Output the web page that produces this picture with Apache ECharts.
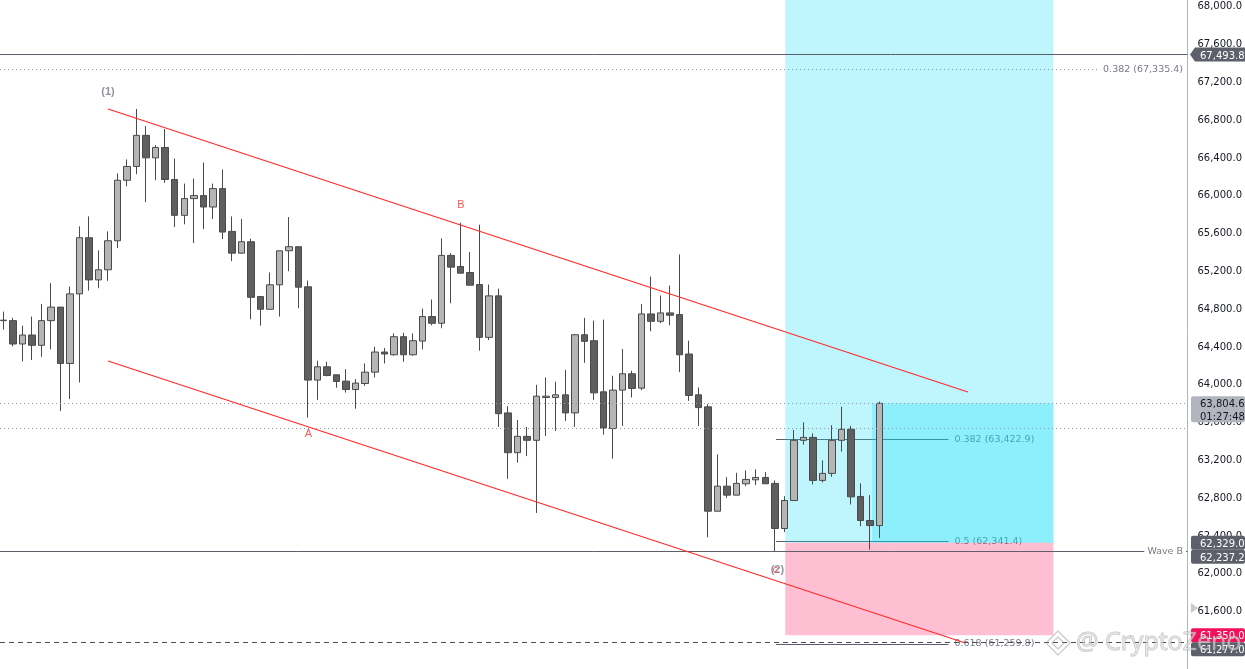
<!DOCTYPE html>
<html><head><meta charset="utf-8">
<script src="https://cdn.jsdelivr.net/npm/echarts@6/dist/echarts.min.js"></script>
<style>html,body{margin:0;padding:0;background:#fff;overflow:hidden}#c{width:1245px;height:669px}</style>
</head><body><div id="c"></div>
<script>
// ---- candle data (index = bar number) ----
const opens  = [64679,64679,64432,64527,64418,64679,64822,64226,64962,65556,65110,65217,65524,66164,66310,66639,66401,66511,66172,65793,65970,66002,65881,66076,65623,65393,65514,64934,64799,65058,65418,65461,65037,64050,64191,64106,64039,63950,64014,64134,64347,64318,64509,64318,64463,64722,64651,65369,65252,65188,65061,64502,64941,63703,63282,63455,63413,63866,63866,63894,63703,64530,64467,63926,63537,63944,64117,63965,64750,64672,64761,64743,64326,63894,63767,62663,62928,62833,62953,62995,63020,62957,62480,62776,63413,63444,62989,63063,63413,63530,62819,62565,62511];
const closes = [64684,64432,64527,64418,64679,64822,64226,64962,65556,65110,65217,65524,66164,66310,66639,66401,66511,66172,65793,65970,66002,65881,66076,65616,65393,65514,64926,64799,65058,65418,65461,65033,64050,64191,64099,64035,63950,64018,64134,64347,64326,64509,64318,64467,64722,64651,65369,65245,65181,65054,64502,64941,63695,63282,63455,63413,63880,63880,63894,63703,64530,64460,63915,63544,63944,64117,63961,64750,64672,64761,64736,64318,63887,63759,62663,62928,62833,62957,62999,63020,62953,62480,62776,63413,63444,62989,63063,63413,63530,62815,62565,62511,63804.6];
const lows   = [64584,64406,64247,64262,64297,64375,63724,63849,64025,64997,65022,65100,65446,66101,66228,65934,66164,66136,65669,65698,65499,65647,65754,65542,65308,65386,64693,64626,64799,64722,65202,64810,63653,63841,64089,63970,63918,63748,63989,64078,64226,64308,64244,64308,64375,64630,64598,64863,65181,65054,64361,64474,63554,63006,63176,63246,62645,63459,63512,63618,63554,64233,63841,63473,63219,63565,63866,63944,64566,64651,64630,64134,63830,63565,62387,62663,62804,62833,62928,62939,62953,62237.2,62442,62776,63367,62946,62967,63027,63293,62734,62504,62257,62380];
const highs  = [64775,64708,64626,64722,64856,65075,64822,65040,65676,65782,65422,65623,66236,66384,66918,66737,66536,66706,66394,66129,66182,66352,66129,66278,65782,65754,65546,64934,65188,65418,65775,65464,65103,64255,64244,64106,64166,64060,64226,64403,64389,64544,64552,64544,64806,64902,65549,65393,65716,65404,65694,65061,65018,63774,63628,63554,64000,64078,64032,64159,64530,64708,64679,64690,64096,64379,64149,64856,65145,64945,65050,65379,64467,63972,63795,63264,63023,63070,63095,63105,63077,62989,62822,63523,63604,63487,63201,63572,63767,63565,62957,62833,63823];

// ---- price axis: visible range and tick labels ----
const priceMin = 60993.8, priceMax = 68070.9;
const priceTicks = [61200, 61600, 62000, 62400, 62800, 63200, 63600, 64000, 64400, 64800, 65200, 65600, 66000, 66400, 66800, 67200, 67600, 68000];

// ---- horizontal levels ----
const levelValues = [67493.8, 67335.4, 63804.6, 63540.0, 62237.2, 61277.0];
const levelKinds  = ['solid', 'dotted', 'dotted', 'dotted', 'solid', 'dashed'];

// ---- fibonacci segment (bar indices) ----
const fibStartEnd = [81.13, 99.23];
const fibRatios = ['0.382', '0.5', '0.618'];
const fibValues = [63422.9, 62341.4, 61259.8];

// ---- long position tool ----
const posBars = [82.1, 91.22, 110.25];   // start, current-start, end
const posEntry = 62329.0, posStop = 61350.0, posTarget = 68500, posCurrent = 63804.6;

// ---- channel ----
const upperChannel = [[11.0, 66917.8], [101.28, 63923.9]];
const lowerChannel = [[11.0, 64251.9], [100.93, 61271.8]];

// ---- wave labels ----
const waveBars   = [11.0, 48.05, 32.03, 81.27, 81.1];
const wavePrices = [67097, 65902, 63479, 62040, 62040];
const waveTexts  = ['(1)', 'B', 'A', '(2)', 'C'];
const waveColors = ['#787b86', '#ff2d2d', '#ff2d2d', '#787b86', '#ff2d2d'];

// ---- axis price tags ----
const tagValues = [67493.8, 63804.6, 62329.0, 62237.2, 61350.0, 61277.0];
const tagExtra  = ['', '01:27:48', '', '', '', ''];
const tagBgs    = ['#5d606b', '#b2b5be', '#5d606b', '#5d606b', '#f50f5a', '#5d606b'];
const tagFg     = ['#ffffff', '#131722', '#ffffff', '#ffffff', '#ffffff', '#ffffff'];

const fmt = v => v.toLocaleString('en-US', {minimumFractionDigits: 1, maximumFractionDigits: 1});
const FONT = '"DejaVu Sans", Verdana, sans-serif';

const candleData = opens.map((o, i) => [i, o, closes[i], lows[i], highs[i]]);

const chart = echarts.init(document.getElementById('c'), null, {renderer: 'canvas'});
const barPx = 9.545;
const xMin = -3.3 / barPx;
const xMax = xMin + 1190 / barPx;

const lineStyles = {
  solid:  {type: 'solid',  color: '#5d606b', width: 1},
  dotted: {type: [1, 3],   color: '#9598a1', width: 1},
  dashed: {type: [5, 4],   color: '#4a4d55', width: 1}
};

chart.setOption({
  animation: false,
  backgroundColor: '#ffffff',
  grid: {left: 0, right: 55, top: 0, bottom: 0, containLabel: false},
  xAxis: {type: 'value', min: xMin, max: xMax, show: false, splitLine: {show: false}},
  yAxis: {
    type: 'value', position: 'right', min: priceMin, max: priceMax,
    axisLine: {show: true, onZero: false, lineStyle: {color: '#b2b5be', width: 1}},
    axisTick: {show: false},
    splitLine: {show: false},
    axisLabel: {color: '#131722', fontSize: 10, fontFamily: FONT, margin: 10,
                customValues: priceTicks, showMinLabel: true, showMaxLabel: true, formatter: v => fmt(v)}
  },
  series: [
    {
      type: 'line', name: 'fib', data: [], z: 1,
      markLine: {
        z: 0, silent: true, symbol: ['none', 'none'],
        data: fibValues.map((v, i) => [
          {coord: [fibStartEnd[0], v], lineStyle: {color: '#5d606b', width: 1, type: 'solid'},
           label: {show: true, position: 'end', distance: 6, formatter: fibRatios[i] + ' (' + fmt(v) + ')',
                   color: '#787b86', fontSize: 9.5, fontFamily: FONT}},
          {coord: [fibStartEnd[1], v]}
        ])
      }
    },
    {
      type: 'line', name: 'position', data: [], z: 1,
      markArea: {
        z: 1, silent: true,
        data: [
          [{coord: [posBars[0], posEntry], itemStyle: {color: 'rgba(0,219,247,0.25)'}}, {coord: [posBars[2], posTarget]}],
          [{coord: [posBars[1], posEntry], itemStyle: {color: 'rgba(0,219,247,0.26)'}}, {coord: [posBars[2], posCurrent]}],
          [{coord: [posBars[0], posStop], itemStyle: {color: 'rgba(255,42,108,0.30)'}}, {coord: [posBars[2], posEntry]}]
        ]
      }
    },
    {
      type: 'candlestick', name: 'BTC', z: 3,
      data: candleData,
      encode: {x: 0, y: [1, 2, 3, 4]},
      barWidth: 7,
      itemStyle: {color: '#b5b5b5', color0: '#5f5f5f', borderColor: '#4a4a4a', borderColor0: '#4a4a4a', borderWidth: 1}
    },
    {
      type: 'line', name: 'levels', data: [], z: 4,
      markLine: {
        z: 4, silent: true, symbol: ['none', 'none'], label: {show: false},
        data: levelValues.map((v, i) => ({yAxis: v, lineStyle: lineStyles[levelKinds[i]]}))
      }
    },
    {
      type: 'line', name: 'upper', data: upperChannel, z: 5, symbol: 'none', silent: true,
      lineStyle: {color: '#ff2a2a', width: 1.2}
    },
    {
      type: 'line', name: 'lower', data: lowerChannel, z: 5, symbol: 'none', silent: true,
      lineStyle: {color: '#ff2a2a', width: 1.2}
    },
    {
      type: 'scatter', name: 'waves', z: 6, symbolSize: 1, silent: true,
      itemStyle: {color: 'rgba(0,0,0,0)'},
      data: waveTexts.map((t, i) => ({
        value: [waveBars[i], wavePrices[i]],
        label: {show: true, position: 'inside', formatter: t, color: waveColors[i],
                textBorderWidth: 0, textBorderColor: 'transparent',
                fontSize: i === 4 ? 9 : 11, fontWeight: (i === 0 || i === 3) ? 'bold' : 'normal',
                fontFamily: 'Liberation Sans, Arial, sans-serif'}
      }))
    }
  ]
});

// ---- graphics placed through the y scale ----
const py = v => chart.convertToPixel({yAxisIndex: 0}, v);
const g = [];
[[67335.4, '0.382 (67,335.4)'], [62237.2, 'Wave B']].forEach(([v, t]) => {
  g.push({type: 'text', z: 50, style: {text: t, x: 1186, y: py(v), textAlign: 'right', textVerticalAlign: 'middle',
          fill: '#787b86', font: '9.5px ' + FONT, backgroundColor: '#ffffff', padding: [1, 3]}});
});
let prevBottom = -1e9;
tagValues.forEach((v, i) => {
  const two = tagExtra[i] !== '';
  const h = two ? 26 : 14;
  let top = py(v) - 7;
  if (top < prevBottom) top = prevBottom;
  prevBottom = top + h;
  if (i === 0) {
    g.push({type: 'polygon', z: 60, shape: {points: [[1190, top + 7], [1195, top], [1245, top], [1245, top + h], [1195, top + h]]},
            style: {fill: tagBgs[i]}});
  } else {
    g.push({type: 'rect', z: 60, shape: {x: 1191, y: top, width: 54, height: h, r: 2}, style: {fill: tagBgs[i]}});
  }
  g.push({type: 'text', z: 61, style: {text: fmt(v) + (two ? '\n' + tagExtra[i] : ''), x: 1200, y: top + 2,
          textAlign: 'left', textVerticalAlign: 'top', fill: tagFg[i], font: '10px ' + FONT, lineHeight: 13}});
});
g.push({type: 'polygon', z: 60, shape: {points: [[1191, 603], [1198, 608], [1191, 613]]}, style: {fill: '#c8cad0'}});
g.push({type: 'polygon', z: 100, shape: {points: [[1058, 631], [1070, 643], [1058, 655], [1046, 643]]},
        style: {fill: 'none', stroke: 'rgba(150,150,150,0.45)', lineWidth: 1.5}});
g.push({type: 'polygon', z: 100, shape: {points: [[1058, 637], [1064, 643], [1058, 649], [1052, 643]]},
        style: {fill: 'none', stroke: 'rgba(150,150,150,0.45)', lineWidth: 1.5}});
g.push({type: 'text', z: 100, style: {text: '@ CryptoZeno', x: 1076, y: 643, textAlign: 'left', textVerticalAlign: 'middle',
        fill: 'rgba(225,225,225,0.6)', stroke: 'rgba(140,140,140,0.5)', lineWidth: 1,
        font: '25px "Open Sans", sans-serif'}});
chart.setOption({graphic: g});
</script>
</body></html>
